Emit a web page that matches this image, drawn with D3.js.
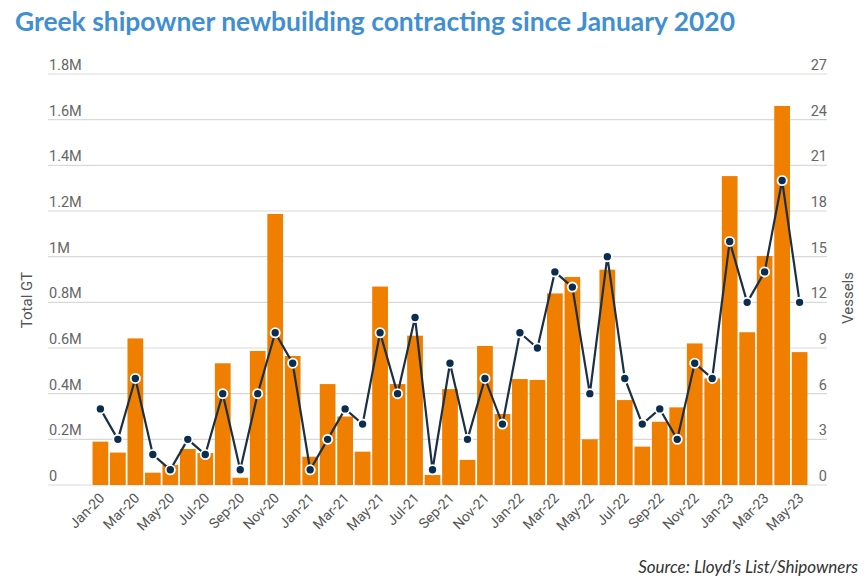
<!DOCTYPE html>
<html>
<head>
<meta charset="utf-8">
<script src="https://cdn.jsdelivr.net/npm/d3@7"></script>
<style>
  html, body { margin: 0; padding: 0; background: #fff; }
  svg { display: block; }
</style>
</head>
<body>
<svg id="chart" width="866" height="585"></svg>
<script>
const months = ["Jan-20","Feb-20","Mar-20","Apr-20","May-20","Jun-20","Jul-20","Aug-20","Sep-20","Oct-20","Nov-20","Dec-20",
  "Jan-21","Feb-21","Mar-21","Apr-21","May-21","Jun-21","Jul-21","Aug-21","Sep-21","Oct-21","Nov-21","Dec-21",
  "Jan-22","Feb-22","Mar-22","Apr-22","May-22","Jun-22","Jul-22","Aug-22","Sep-22","Oct-22","Nov-22","Dec-22",
  "Jan-23","Feb-23","Mar-23","Apr-23","May-23"];
const totalGT = [0.19,0.142,0.642,0.054,0.088,0.158,0.14,0.533,0.032,0.587,1.187,0.565,
  0.124,0.442,0.30,0.146,0.869,0.442,0.654,0.044,0.42,0.11,0.609,0.311,
  0.464,0.46,0.839,0.911,0.20,0.943,0.372,0.168,0.277,0.34,0.62,0.467,
  1.353,0.669,1.003,1.66,0.582];
const vessels = [5,3,7,2,1,3,2,6,1,6,10,8,
  1,3,5,4,10,6,11,1,8,3,7,4,
  10,9,14,13,6,15,7,4,5,3,8,7,
  16,12,14,20,12];
const leftTicks = [0,0.2,0.4,0.6,0.8,1,1.2,1.4,1.6,1.8];
const rightTicks = [0,3,6,9,12,15,18,21,24,27];
const xLabels = months.filter((d,i) => i % 2 === 0);

const svg = d3.select("#chart");
const gridLeft = 48, gridRight = 827;
const yTop = 74, yBottom = 485;

const x = d3.scaleBand().domain(months).range([92, 808]).paddingInner(0.1).paddingOuter(0.03);
const yL = d3.scaleLinear().domain([0, 1.8]).range([yBottom, yTop]);
const yR = d3.scaleLinear().domain([0, 27]).range([yBottom, yTop]);

// Title
svg.append("text")
  .attr("x", 15).attr("y", 31)
  .attr("font-family", "Lato, 'Open Sans', sans-serif")
  .attr("font-weight", "bold")
  .attr("font-size", 26)
  .attr("fill", "#3f8fd2")
  .attr("textLength", 720)
  .attr("lengthAdjust", "spacingAndGlyphs")
  .text("Greek shipowner newbuilding contracting since January 2020");

// Gridlines
const grid = svg.append("g");
grid.selectAll("line").data(leftTicks).join("line")
  .attr("x1", gridLeft).attr("x2", gridRight)
  .attr("y1", d => yL(d)).attr("y2", d => yL(d))
  .attr("stroke", "#d9d9d9").attr("stroke-width", 1.2);

// Left tick labels
const fmtL = d => d === 0 ? "0" : (d + "M");
svg.append("g").selectAll("text").data(leftTicks).join("text")
  .attr("x", gridLeft + 1).attr("y", d => yL(d) - 4)
  .attr("font-family", "Roboto, sans-serif").attr("font-size", 14.5)
  .attr("fill", "#666")
  .text(fmtL);

// Right tick labels
svg.append("g").selectAll("text").data(rightTicks).join("text")
  .attr("x", gridRight).attr("y", d => yR(d) - 4)
  .attr("text-anchor", "end")
  .attr("font-family", "Roboto, sans-serif").attr("font-size", 14.5)
  .attr("fill", "#666")
  .text(d => d);

// Bars
svg.append("g").selectAll("rect").data(months).join("rect")
  .attr("x", d => x(d))
  .attr("width", x.bandwidth())
  .attr("y", (d,i) => yL(totalGT[i]))
  .attr("height", (d,i) => yBottom - yL(totalGT[i]))
  .attr("fill", "#f07f00");

// Line
const line = d3.line()
  .x((d,i) => x(months[i]) + x.bandwidth()/2)
  .y(d => yR(d));
svg.append("path").datum(vessels)
  .attr("d", line)
  .attr("fill", "none")
  .attr("stroke", "#1b2f45")
  .attr("stroke-width", 2.2);

svg.append("g").selectAll("circle").data(vessels).join("circle")
  .attr("cx", (d,i) => x(months[i]) + x.bandwidth()/2)
  .attr("cy", d => yR(d))
  .attr("r", 4.6)
  .attr("fill", "#0b2d50")
  .attr("stroke", "#fff")
  .attr("stroke-width", 1.8);

// X labels
svg.append("g").selectAll("text").data(xLabels).join("text")
  .attr("transform", d => `translate(${x(d) + x.bandwidth()/2 + 5},${yBottom + 14}) rotate(-45)`)
  .attr("text-anchor", "end")
  .attr("font-family", "Roboto, sans-serif").attr("font-size", 14)
  .attr("fill", "#555")
  .text(d => d);

// Axis titles
svg.append("text")
  .attr("transform", "translate(32,300) rotate(-90)")
  .attr("text-anchor", "middle")
  .attr("font-family", "Roboto, sans-serif").attr("font-size", 15)
  .attr("fill", "#555")
  .text("Total GT");
svg.append("text")
  .attr("transform", "translate(853,298) rotate(-90)")
  .attr("text-anchor", "middle")
  .attr("font-family", "Roboto, sans-serif").attr("font-size", 15)
  .attr("fill", "#555")
  .text("Vessels");

// Source
svg.append("text")
  .attr("x", 858).attr("y", 573)
  .attr("text-anchor", "end")
  .attr("font-family", "Lato, sans-serif")
  .attr("font-style", "italic")
  .attr("font-size", 17)
  .attr("fill", "#333")
  .text("Source: Lloyd\u2019s List/Shipowners");
</script>
</body>
</html>
